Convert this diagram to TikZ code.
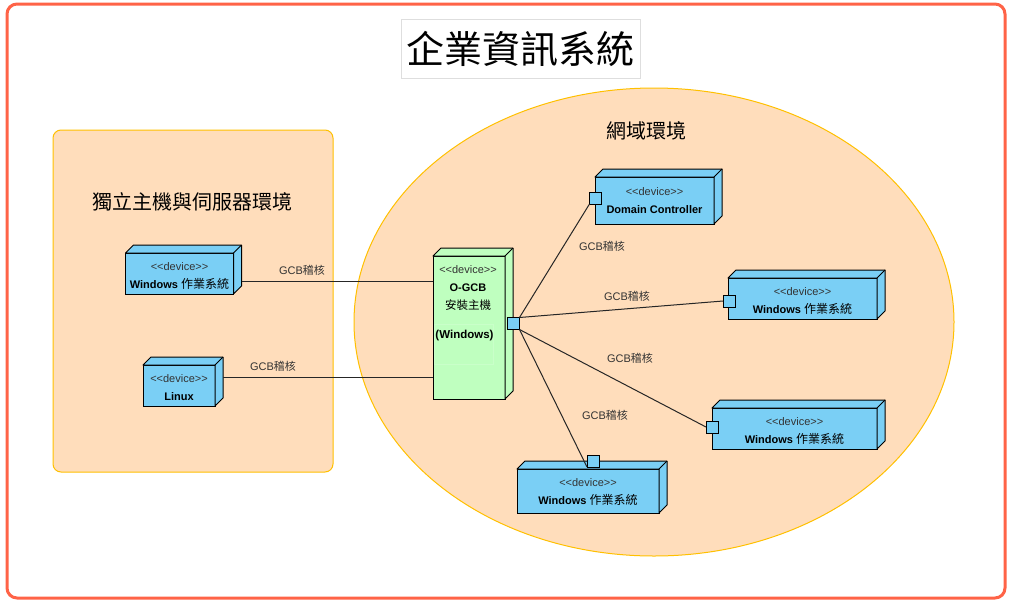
\documentclass[tikz,border=0pt]{standalone}
\usepackage{fontspec}
\setmainfont{Liberation Sans}
\newfontfamily\cjkfont{Noto Sans CJK TC}
\usetikzlibrary{positioning}
\usetikzlibrary{shapes.geometric}
\definecolor{framered}{HTML}{FF6347}
\definecolor{zonefill}{HTML}{FFDDBB}
\definecolor{zoneline}{HTML}{FFC000}
\definecolor{devblue}{HTML}{7ACFF5}
\definecolor{devgreen}{HTML}{BFFFBF}
\definecolor{labelgray}{HTML}{333333}
\tikzset{
	devicebox/.style={draw=black,line width=1pt,fill=#1,inner sep=0pt,outer sep=0pt,align=center,font=\fontsize{11}{17}\selectfont},
	devicebox/.default=devblue,
	portbox/.style={draw=black,line width=1pt,fill=devblue,inner sep=0pt,outer sep=0pt,minimum size=12pt},
	gcblabel/.style={text=labelgray,inner sep=0pt,font=\fontsize{11}{13}\selectfont},
	zonelabel/.style={inner sep=0pt,font=\fontsize{20}{24}\selectfont\cjkfont},
	link/.style={draw=black!85,line width=1pt},
}
\newcommand{\stereo}{{\fontsize{11}{17}\selectfont\color{labelgray}\textless\kern0pt\textless\kern0pt device\textgreater\kern0pt\textgreater}}
\newcommand{\winos}{\textbf{Windows} {\fontsize{12}{17}\selectfont\cjkfont 作業系統}}
\newcommand{\devtext}[1]{\rule{0pt}{13pt}\stereo\\[1pt]#1}
% side and top faces of a device
\newcommand{\devicedepth}[2]{
	\filldraw[fill=#2,draw=black,line width=1pt,line join=round] (#1.north west) -- ([shift={(8,-8)}]#1.north west) -- ([shift={(8,-8)}]#1.north east) -- ([shift={(8,-8)}]#1.south east) -- (#1.south east) -- (#1.north east) -- cycle;
	\draw[line width=1pt] (#1.north east) -- ([shift={(8,-8)}]#1.north east);
}
\begin{document}
\begin{tikzpicture}[x=1pt,y=-1pt]
	\useasboundingbox (0,0) rectangle (1010,603);
	\node[draw=framered,line width=3pt,rounded corners=10pt,minimum width=998pt,minimum height=594pt] (frame) at (506,301) {};
	\node[draw=black!13,line width=1pt,minimum width=239pt,minimum height=59pt,inner sep=0pt,font=\fontsize{38}{40}\selectfont\cjkfont] (title) at (520.5,48.5) {企業資訊系統};
	% zones
	\node[draw=zoneline,fill=zonefill,line width=1pt,rounded corners=8pt,minimum width=280pt,minimum height=342pt] (standalone) at (193,301) {};
	\node[draw=zoneline,fill=zonefill,line width=1pt,ellipse,inner sep=0pt,minimum width=600pt,minimum height=468pt] (domain) at (654,322) {};
	\node[zonelabel] (standalonetext) at (192.5,202) {獨立主機與伺服器環境};
	\node[zonelabel] (domaintext) at (646,131) {網域環境};
	% devices
	\node[devicebox,minimum width=108pt,minimum height=41pt] (winleft) at (179.5,273.5) {\devtext{\winos}};
	\node[devicebox,minimum width=72pt,minimum height=41pt] (linux) at (179,385.5) {\devtext{\textbf{Linux}}};
	\node[devicebox=devgreen,minimum width=72pt,minimum height=143pt] (ogcb) at (469,327.5) {};
	\node[devicebox,minimum width=119pt,minimum height=47pt] (dc) at (654.5,200.5) {\stereo\\[1pt]\textbf{Domain Controller}};
	\node[devicebox,minimum width=149pt,minimum height=41pt] (winone) at (802.5,298.5) {\devtext{\winos}};
	\node[devicebox,minimum width=165pt,minimum height=41pt] (wintwo) at (794.5,428.5) {\devtext{\winos}};
	\node[devicebox,minimum width=142pt,minimum height=44pt] (winthree) at (588,491) {\rule{0pt}{10pt}\stereo\\[1pt]\winos};
	\devicedepth{winleft}{devblue}
	\devicedepth{linux}{devblue}
	\devicedepth{ogcb}{devgreen}
	\devicedepth{dc}{devblue}
	\devicedepth{winone}{devblue}
	\devicedepth{wintwo}{devblue}
	\devicedepth{winthree}{devblue}
	% text inside O-GCB
	\node[align=center,inner sep=0pt,font=\fontsize{11}{18}\selectfont] (ogcbtext) at (468,287.5) {\stereo\\\textbf{O-GCB}\\{\fontsize{11.5}{18}\selectfont\cjkfont 安裝主機}};
	\node[draw=devgreen!85!white,inner sep=0pt,minimum width=59pt,minimum height=40pt] (ogcbnote) at (464,344) {};
	\node[inner sep=0pt,font=\fontsize{11.5}{13}\selectfont\bfseries] (ogcbos) at (464.5,336) {(Windows)};
	% ports
	\node[portbox] (ogcbport) at (513.5,323.5) {};
	\node[portbox] (dcport) at (595.5,198) {};
	\node[portbox] (oneport) at (729,301) {};
	\node[portbox] (twoport) at (712,427) {};
	\node[portbox] (threeport) at (593,461) {};
	% connectors
	\coordinate (winleftend) at ([shift={(8,8)}]winleft.east);
	\coordinate (linuxend) at ([shift={(8,-8.5)}]linux.east);
	\draw[link] (winleftend) -- (winleftend -| ogcb.west);
	\draw[link] (linuxend) -- (linuxend -| ogcb.west);
	\draw[link] (ogcbport.north east) -- (dcport.south west);
	\draw[link] (ogcbport.north east) -- (oneport.west);
	\draw[link] (ogcbport.south east) -- (twoport.west);
	\draw[link] (ogcbport.south east) -- (threeport.south west);
	% labels
	\node[gcblabel] (gcbone) at (302,270) {GCB{\cjkfont 稽核}};
	\node[gcblabel] (gcbtwo) at (273,366) {GCB{\cjkfont 稽核}};
	\node[gcblabel] (gcbthree) at (602,246) {GCB{\cjkfont 稽核}};
	\node[gcblabel] (gcbfour) at (627,296) {GCB{\cjkfont 稽核}};
	\node[gcblabel] (gcbfive) at (630,358) {GCB{\cjkfont 稽核}};
	\node[gcblabel] (gcbsix) at (605,415) {GCB{\cjkfont 稽核}};
\end{tikzpicture}
\end{document}
